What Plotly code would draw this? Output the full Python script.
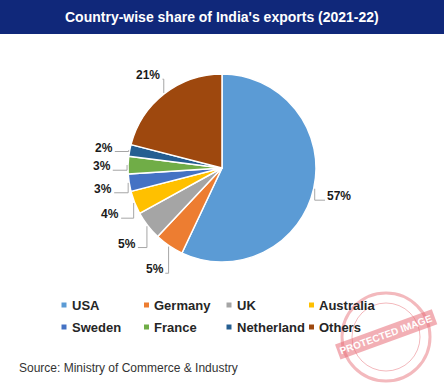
import math
import plotly.graph_objects as go

countries = ["USA", "Germany", "UK", "Australia", "Sweden", "France", "Netherland", "Others"]
shares = [57, 5, 5, 4, 3, 3, 2, 21]
colors = ["#5B9BD5", "#ED7D31", "#A5A5A5", "#FFC000", "#4472C4", "#70AD47", "#255E91", "#9E480E"]

W, H = 444, 388
FONT = "Arial, 'Liberation Sans', sans-serif"

# pie geometry (pixels)
CX, CY, R = 222, 168, 94
LABEL_GAP = 26


def px(x, y):
    return x / W, 1 - y / H


fig = go.Figure(go.Pie(
    labels=countries,
    values=shares,
    sort=False,
    direction="clockwise",
    rotation=0,
    marker=dict(colors=colors, line=dict(color="white", width=1.5)),
    textinfo="none",
    domain=dict(x=[(CX - R) / W, (CX + R) / W], y=[1 - (CY + R) / H, 1 - (CY - R) / H]),
    hoverinfo="label+percent",
    showlegend=False,
))

# title bar
title_h = 34
fig.add_shape(type="rect", xref="paper", yref="paper", x0=0, x1=1,
              y0=1 - title_h / H, y1=1, fillcolor="#10287A", line=dict(width=0), layer="below")
fig.add_annotation(text="<b>Country-wise share of India's exports (2021-22)</b>",
                   xref="paper", yref="paper", x=0.5, y=1 - (title_h / 2) / H,
                   xanchor="center", yanchor="middle", showarrow=False,
                   font=dict(family=FONT, size=14, color="white"))

# outside data labels with leader lines, placed from the slice angles
total = sum(shares)
cum = 0
for name, v in zip(countries, shares):
    a0 = cum / total * 360
    cum += v
    a1 = cum / total * 360
    mid = math.radians((a0 + a1) / 2)
    dx, dy = math.sin(mid), -math.cos(mid)
    ex, ey = CX + (R + 1) * dx, CY + (R + 1) * dy
    lx, ly = CX + (R + LABEL_GAP) * dx, CY + (R + LABEL_GAP) * dy + 2
    text = f"{v}%"
    tw = 6.7 * (len(text) - 1) + 10.7
    x, y = px(lx, ly)
    fig.add_annotation(text=f"<b>{text}</b>", xref="paper", yref="paper", x=x, y=y,
                       xanchor="center", yanchor="middle", showarrow=False,
                       font=dict(family=FONT, size=12, color="#1a1a1a"))
    if dx >= 0:
        sx = lx - tw / 2 - 2
    else:
        sx = lx + tw / 2 + 2
    hy = ly + 4
    p1 = px(sx, hy)
    p2 = px(ex, hy)
    p3 = px(ex, ey)
    fig.add_shape(type="path", xref="paper", yref="paper",
                  path=f"M {p1[0]},{p1[1]} L {p2[0]},{p2[1]} L {p3[0]},{p3[1]}",
                  line=dict(color="#a6a6a6", width=1))

# legend (2 rows x 4 columns)
LEG_X0, LEG_DX = 64, 82.5
LEG_Y0, LEG_DY = 305, 22
for i, (name, col) in enumerate(zip(countries, colors)):
    r, c = divmod(i, 4)
    mx = LEG_X0 + c * LEG_DX
    my = LEG_Y0 + r * LEG_DY
    a = px(mx - 2.5, my - 2.5)
    b = px(mx + 2.5, my + 2.5)
    fig.add_shape(type="rect", xref="paper", yref="paper", x0=a[0], y0=a[1], x1=b[0], y1=b[1],
                  fillcolor=col, line=dict(width=0))
    tx, ty = px(mx + 5.5, my)
    fig.add_annotation(text=f"<b>{name}</b>", xref="paper", yref="paper", x=tx, y=ty,
                       xanchor="left", yanchor="middle", showarrow=False,
                       font=dict(family=FONT, size=13, color="#262626"))

# source
sx_, sy_ = px(17, 368)
fig.add_annotation(text="Source: Ministry of Commerce & Industry",
                   xref="paper", yref="paper", x=sx_, y=sy_,
                   xanchor="left", yanchor="middle", showarrow=False,
                   font=dict(family=FONT, size=12, color="#333333"))

# watermark stamp
SCX, SCY = 386, 337
for rr, w in ((44, 3), (34, 1)):
    a = px(SCX - rr, SCY - rr)
    b = px(SCX + rr, SCY + rr)
    fig.add_shape(type="circle", xref="paper", yref="paper", x0=a[0], y0=a[1], x1=b[0], y1=b[1],
                  line=dict(color="rgba(225,80,90,0.4)", width=w), fillcolor="rgba(0,0,0,0)")
wx, wy = px(SCX, SCY - 3)
fig.add_annotation(text="<b>PROTECTED IMAGE</b>", xref="paper", yref="paper", x=wx, y=wy,
                   xanchor="center", yanchor="middle", showarrow=False, textangle=-20,
                   bgcolor="rgba(232,110,120,0.55)", borderpad=2,
                   font=dict(family=FONT, size=10, color="white"))

fig.update_layout(
    width=W, height=H,
    margin=dict(l=0, r=0, t=0, b=0, autoexpand=False),
    paper_bgcolor="white", plot_bgcolor="white",
    showlegend=False,
)

fig.write_html("out.html", config={"displayModeBar": False},
               post_script="document.body.style.margin='0';")
